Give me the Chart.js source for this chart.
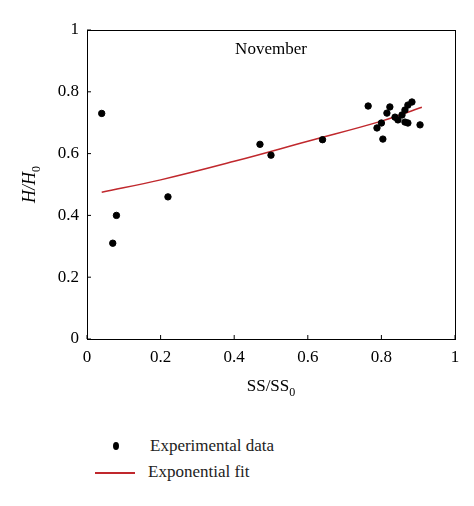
<!DOCTYPE html><html><head><meta charset="utf-8">
<script src="https://cdn.jsdelivr.net/npm/chart.js@4"></script>
<style>body{margin:0;background:#fff;font-family:"Liberation Serif",serif}
#w{position:relative;width:474px;height:506px}
.lg{position:absolute;left:95px;font-size:17px;color:#222}
</style></head><body><div id="w"><canvas id="c" width="474" height="400" style="position:absolute;left:0;top:0;width:474px;height:400px"></canvas>
<div class="lg" style="top:436px"><span style="display:inline-block;width:6px;height:8px;border-radius:50%;background:#000;margin:0 31px 1px 18px"></span>Experimental data</div>
<div class="lg" style="top:462px"><span style="display:inline-block;width:40px;height:1.5px;background:#c0282d;vertical-align:middle;margin-right:13px;"></span>Exponential fit</div>
</div>
<script>
const dataX=[0.04,0.07,0.08,0.22,0.47,0.50,0.64,0.764,0.823,0.815,0.883,0.872,0.864,0.856,0.837,0.845,0.864,0.872,0.80,0.788,0.905,0.804];
const dataY=[0.73,0.31,0.40,0.46,0.63,0.595,0.645,0.754,0.751,0.731,0.767,0.757,0.741,0.725,0.718,0.709,0.702,0.699,0.699,0.683,0.693,0.647];
const fitX=[0.04,0.2,0.4,0.6,0.8,0.91];
const fitY=[0.475,0.515,0.575,0.64,0.705,0.75];
const ticks=[0,0.2,0.4,0.6,0.8,1];
const F='"Liberation Serif", serif';
const deco={id:'deco',afterDraw(ch){const c=ch.ctx,a=ch.chartArea;c.save();c.fillStyle='#000';c.strokeStyle='#000';c.lineWidth=1;
c.beginPath();ticks.forEach(v=>{const px=ch.scales.x.getPixelForValue(v),py=ch.scales.y.getPixelForValue(v);
c.moveTo(px,a.bottom);c.lineTo(px,a.bottom-4);c.moveTo(a.left,py);c.lineTo(a.left+4,py);});c.stroke();
c.font='17px '+F;c.textAlign='center';c.fillText('November',(a.left+a.right)/2,a.top+24);
c.font='17px '+F;c.textAlign='left';let t='SS/SS',w=c.measureText(t).width,x0=(a.left+a.right)/2-(w+6)/2;
c.fillText(t,x0,a.bottom+52);c.font='12px '+F;c.fillText('0',x0+w,a.bottom+57);
c.translate(a.left-52,(a.top+a.bottom)/2);c.rotate(-Math.PI/2);c.font='italic 18px '+F;
let t2='H/H',w2=c.measureText(t2).width;c.fillText(t2,-(w2+6)/2,0);c.font='12px '+F;c.fillText('0',-(w2+6)/2+w2,5);
c.restore();}};
new Chart(document.getElementById('c'),{data:{datasets:[
{type:'scatter',data:dataX.map((x,i)=>({x,y:dataY[i]})),backgroundColor:'#000',borderColor:'#000',pointRadius:3.2},
{type:'line',data:fitX.map((x,i)=>({x,y:fitY[i]})),borderColor:'#c0282d',borderWidth:1.5,pointRadius:0,tension:0.4,fill:false}]},
options:{responsive:false,animation:false,layout:{padding:{left:0,right:19,top:30,bottom:0}},plugins:{legend:{display:false},tooltip:{enabled:false}},
scales:{x:{type:'linear',min:0,max:1,afterBuildTicks:s=>{s.ticks=ticks.map(v=>({value:v}))},grid:{display:false,drawTicks:false},border:{color:'#000',width:1},
ticks:{color:'#000',font:{family:F,size:17},padding:8,callback:v=>String(v)},afterFit:s=>{s.height=61}},
y:{min:0,max:1,afterBuildTicks:s=>{s.ticks=ticks.map(v=>({value:v}))},grid:{display:false,drawTicks:false},border:{color:'#000',width:1},
ticks:{color:'#000',font:{family:F,size:17},padding:8,callback:v=>String(v)},afterFit:s=>{s.width=87}},
x2:{position:'top',type:'linear',min:0,max:1,grid:{display:false,drawTicks:false},ticks:{display:false},border:{color:'#000'}},
y2:{position:'right',min:0,max:1,grid:{display:false,drawTicks:false},ticks:{display:false},border:{color:'#000'}}}},
plugins:[deco]});
</script></body></html>
